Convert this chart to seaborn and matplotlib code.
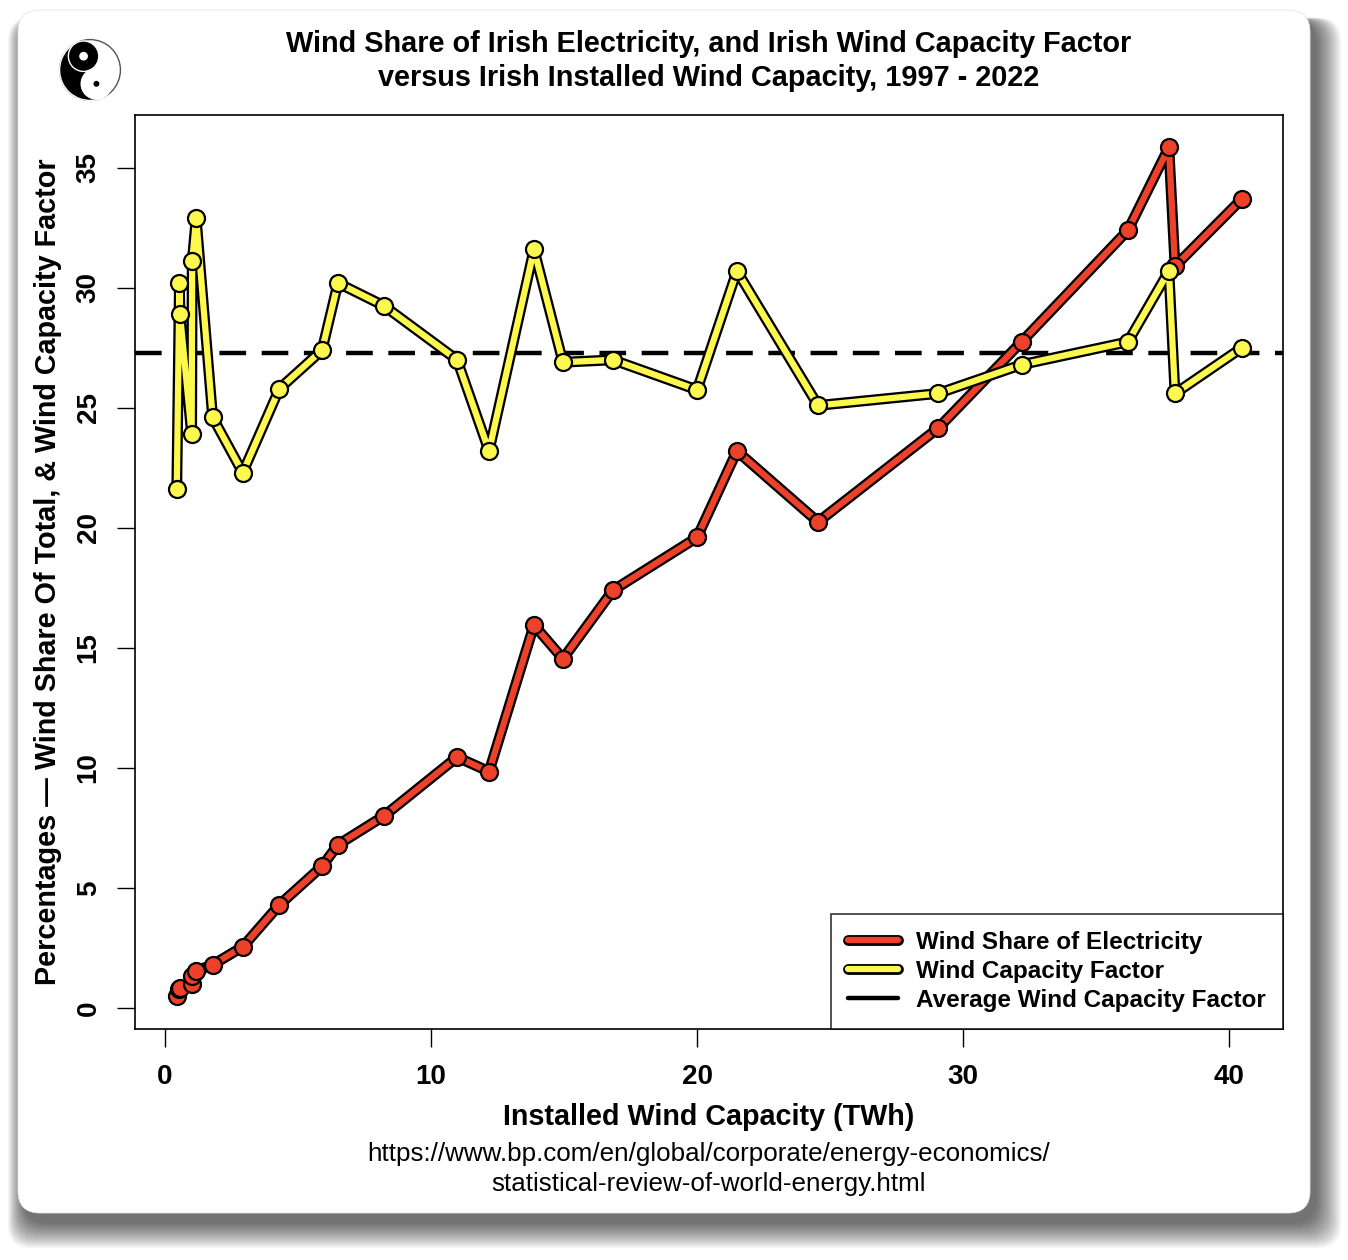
import numpy as np
import pandas as pd
import seaborn as sns
import matplotlib.pyplot as plt
import matplotlib.patheffects as pe
from matplotlib.lines import Line2D
from matplotlib.patches import FancyBboxPatch, Wedge, Circle
from matplotlib.transforms import IdentityTransform

# Data (1997 - 2022)
years = list(range(1997, 2023))
capacity = [0.44, 0.54, 0.56, 1.0, 1.02, 1.17, 1.79, 2.92, 4.3, 5.9, 6.5, 8.23,
            10.98, 12.18, 13.87, 14.96, 16.84, 20.0, 21.5, 24.55, 29.06, 32.2,
            36.2, 37.74, 37.97, 40.48]
wind_share = [0.5, 0.8, 0.85, 1.0, 1.35, 1.55, 1.8, 2.55, 4.3, 5.9, 6.8, 8.0,
              10.45, 9.85, 15.95, 14.55, 17.4, 19.6, 23.2, 20.25, 24.15, 27.75,
              32.4, 35.85, 30.9, 33.7]
cap_factor = [21.6, 30.2, 28.9, 23.9, 31.1, 32.9, 24.6, 22.3, 25.8, 27.4, 30.2,
              29.25, 27.0, 23.2, 31.6, 26.9, 27.0, 25.75, 30.7, 25.1, 25.6, 26.8,
              27.75, 30.7, 25.6, 27.5]
x_ticks = [0, 10, 20, 30, 40]
y_ticks = [0, 5, 10, 15, 20, 25, 30, 35]

RED = '#EE4129'
YELLOW = '#FDF84E'
W, H = 1348, 1260

df = pd.DataFrame({'year': years, 'capacity': capacity,
                   'share': wind_share, 'cf': cap_factor})
avg_cf = df['cf'].mean()

sns.set_style('white')
plt.rcParams['font.family'] = ['Liberation Sans', 'DejaVu Sans']
plt.rcParams['text.color'] = 'black'
plt.rcParams['xtick.color'] = 'black'
plt.rcParams['ytick.color'] = 'black'
plt.rcParams['axes.labelcolor'] = 'black'

fig = plt.figure(figsize=(W / 100, H / 100), dpi=100)
fig.patch.set_facecolor('white')

# Card with soft drop shadow
for i in range(30):
    s = i * 1.6
    fig.patches.append(FancyBboxPatch(
        (18 + 6 - s * 0.35, H - 1213 - 10 - s * 0.55), 1292 + s * 0.9, 1203 + s * 0.6,
        boxstyle='round,pad=0,rounding_size=24', transform=IdentityTransform(),
        facecolor='black', edgecolor='none', alpha=0.022, zorder=0))
fig.patches.append(FancyBboxPatch(
    (18, H - 1213), 1292, 1203, boxstyle='round,pad=0,rounding_size=22',
    transform=IdentityTransform(), facecolor='white', edgecolor='#e4e4e4',
    linewidth=0.6, zorder=1))

# Logo
lax = fig.add_axes([55 / W, 1 - 105 / H, 70 / W, 70 / H])
lax.set_zorder(3)
lax.patch.set_alpha(0)
lax.set_xlim(-1.15, 1.15)
lax.set_ylim(-1.15, 1.15)
lax.set_aspect('equal')
lax.axis('off')
rot = 25
lax.add_patch(Circle((0, 0), 1, facecolor='white', edgecolor='#555555', lw=1))
lax.add_patch(Wedge((0, 0), 1, 90 + rot, 270 + rot, facecolor='black'))
ang = np.deg2rad(90 + rot)
ux, uy = 0.5 * np.cos(ang), 0.5 * np.sin(ang)
lax.add_patch(Circle((ux, uy), 0.5, facecolor='black'))
lax.add_patch(Circle((-ux, -uy), 0.5, facecolor='white'))
lax.add_patch(Circle((ux, uy), 0.12, facecolor='white'))
lax.add_patch(Circle((-ux, -uy), 0.12, facecolor='black'))

ax = fig.add_axes([135 / W, 1 - 1029 / H, (1283 - 135) / W, (1029 - 115) / H])
ax.set_zorder(2)

ax.axhline(avg_cf, color='black', lw=3.2, dashes=(6, 3.5), zorder=1)

outline = [pe.Stroke(linewidth=7.8, foreground='black'), pe.Normal()]
sns.lineplot(data=df, x='capacity', y='share', sort=False, estimator=None,
             color=RED, lw=4.5, ax=ax, zorder=2,
             path_effects=outline, solid_capstyle='round', solid_joinstyle='round')
sns.scatterplot(data=df, x='capacity', y='share', color=RED, s=150,
                edgecolor='black', linewidth=1.6, ax=ax, zorder=2.5)
sns.lineplot(data=df, x='capacity', y='cf', sort=False, estimator=None,
             color=YELLOW, lw=4.5, ax=ax, zorder=3,
             path_effects=outline, solid_capstyle='round', solid_joinstyle='round')
sns.scatterplot(data=df, x='capacity', y='cf', color=YELLOW, s=150,
                edgecolor='black', linewidth=1.6, ax=ax, zorder=3.5)

ax.set_xlim(-1.13, 42.03)
ax.set_ylim(-0.875, 37.2)
ax.set_xticks(x_ticks)
ax.set_yticks(y_ticks)
ax.set_xlabel('')
ax.set_ylabel('')
for sp in ax.spines.values():
    sp.set_color('black')
    sp.set_linewidth(1.2)
ax.tick_params(axis='both', direction='out', length=13, width=1, color='black',
               labelcolor='black', labelsize=20, bottom=True, left=True)
ax.tick_params(axis='x', pad=12)
ax.tick_params(axis='y', pad=11, labelrotation=90)
for lbl in ax.get_xticklabels() + ax.get_yticklabels():
    lbl.set_fontweight('bold')
for lbl in ax.get_yticklabels():
    lbl.set_va('center')

handles = [
    Line2D([], [], color=RED, lw=4.5, solid_capstyle='round', path_effects=outline),
    Line2D([], [], color=YELLOW, lw=4.5, solid_capstyle='round', path_effects=outline),
    Line2D([], [], color='black', lw=3.2),
]
labels = ['Wind Share of Electricity', 'Wind Capacity Factor',
          'Average Wind Capacity Factor']
leg = ax.legend(handles, labels, loc='lower right', borderaxespad=0,
                fancybox=False, frameon=True, prop={'weight': 'bold', 'size': 17.5},
                handlelength=2.05, handletextpad=0.75, labelspacing=0.25,
                borderpad=0.7)
leg.get_frame().set_edgecolor('black')
leg.get_frame().set_linewidth(1.2)
leg.set_zorder(10)

fig.text(709 / W, 1 - 61 / H,
         'Wind Share of Irish Electricity, and Irish Wind Capacity Factor\n'
         'versus Irish Installed Wind Capacity, 1997 - 2022',
         ha='center', va='center', fontsize=20.8, fontweight='bold', linespacing=1.3)
fig.text(709 / W, 1 - 1117 / H, 'Installed Wind Capacity (TWh)',
         ha='center', va='center', fontsize=20.7, fontweight='bold')
fig.text(709 / W, 1 - 1169 / H,
         'https://www.bp.com/en/global/corporate/energy-economics/\n'
         'statistical-review-of-world-energy.html',
         ha='center', va='center', fontsize=18.7, linespacing=1.35)
fig.text(48 / W, 1 - 572 / H,
         'Percentages \u2014 Wind Share Of Total, & Wind Capacity Factor',
         ha='center', va='center', rotation=90, fontsize=20.7, fontweight='bold')

fig.savefig('out.png', dpi=100)
